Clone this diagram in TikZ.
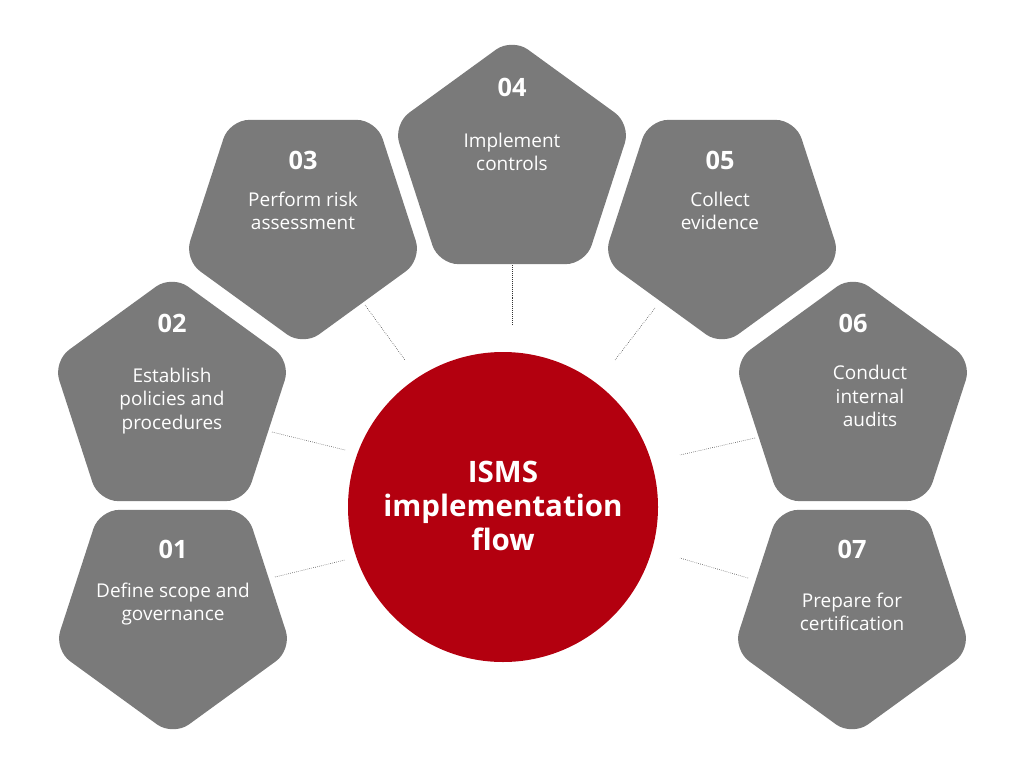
\documentclass[tikz,border=0pt]{standalone}
\usepackage{fontspec}
\setmainfont{Open Sans}
\usetikzlibrary{shapes.geometric}
\definecolor{stepgray}{HTML}{7A7A7A}
\definecolor{ismsred}{HTML}{B3000F}
\begin{document}
\begin{tikzpicture}[x=0.025cm,y=-0.025cm]
\tikzstyle{penta} = [regular polygon, regular polygon sides=5, minimum size=250*0.025cm, fill=stepgray, rounded corners=14pt, inner sep=0pt]
\tikzstyle{num} = [text=white, font=\fontsize{18}{20}\selectfont\bfseries]
\tikzstyle{lbl} = [text=white, align=center, font=\fontsize{13.5}{16.5}\selectfont]
\tikzstyle{link} = [densely dotted, thin, black!80]
\useasboundingbox (0,0) rectangle (1024,768);

\node [penta, shape border rotate=180] (p1) at (173,611) {};
\node [penta] (p2) at (172,400) {};
\node [penta, shape border rotate=180] (p3) at (303,221) {};
\node [penta] (p4) at (512,163) {};
\node [penta, shape border rotate=180] (p5) at (722,221) {};
\node [penta] (p6) at (853,400) {};
\node [penta, shape border rotate=180] (p7) at (852,611) {};
\node [circle, fill=ismsred, minimum size=310*0.025cm] (c) at (503,507) {};

\node [num] (n1) at (173,549) {01};
\node [lbl] (t1) at (173,604) {Define scope and\\governance};
\node [num] (n2) at (172,323) {02};
\node [lbl] (t2) at (172,401) {Establish\\policies and\\procedures};
\node [num] (n3) at (303,160) {03};
\node [lbl] (t3) at (303,211) {Perform risk\\assessment};
\node [num] (n4) at (512,87) {04};
\node [lbl] (t4) at (512,152) {Implement\\controls};
\node [num] (n5) at (720,160) {05};
\node [lbl] (t5) at (720,211) {Collect\\evidence};
\node [num] (n6) at (853,323) {06};
\node [lbl] (t6) at (870,396) {Conduct\\internal\\audits};
\node [num] (n7) at (852,549) {07};
\node [lbl] (t7) at (852,612) {Prepare for\\certification};
\node [text=white, align=center, font=\fontsize{21}{24}\selectfont\bfseries] (ct) at (503,506) {ISMS\\implementation\\flow};

\coordinate (a1) at (275,577); \coordinate (b1) at (345,560);
\coordinate (a2) at (272,432); \coordinate (b2) at (345,450);
\coordinate (a3) at (365,305); \coordinate (b3) at (405,360);
\coordinate (a4) at (512,265); \coordinate (b4) at (512,325);
\coordinate (a5) at (655,308); \coordinate (b5) at (615,360);
\coordinate (a6) at (755,438); \coordinate (b6) at (680,455);
\coordinate (a7) at (748,578); \coordinate (b7) at (680,558);
\foreach \i in {1,...,7}
  \draw [link] (a\i) -- (b\i);
\end{tikzpicture}
\end{document}
